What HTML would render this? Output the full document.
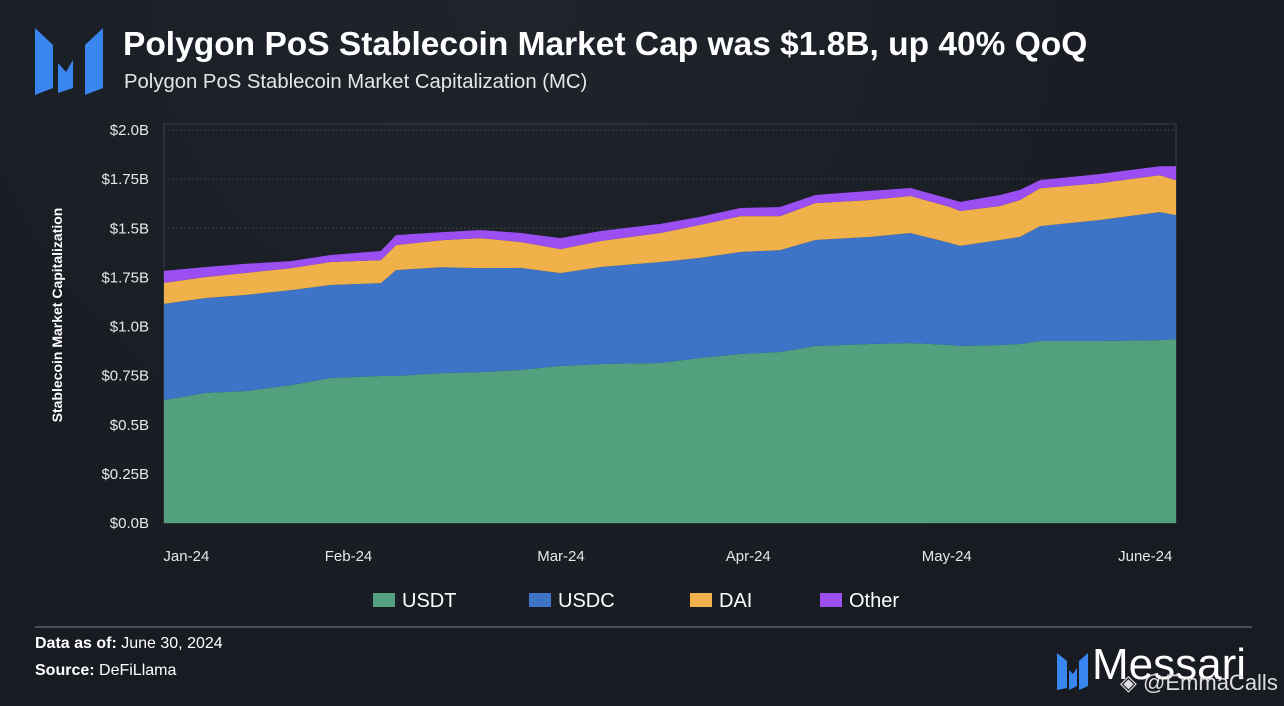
<!DOCTYPE html>
<html><head><meta charset="utf-8"><style>
body{margin:0;width:1284px;height:706px;overflow:hidden;background:#1b1f26;font-family:"Liberation Sans",sans-serif;color:#fff}
#bg{position:absolute;left:0;top:0;width:1284px;height:706px;background:radial-gradient(ellipse at 40% 0%,#1f242b 0%,#181c22 70%)}
.t{position:absolute;white-space:nowrap}
</style></head><body>
<div id="bg"></div>
<svg style="position:absolute;left:0;top:0" width="1284" height="706">
  <g fill="#3a86f0">
    <polygon points="35,28 53,45 53,88 35,95"/><polygon points="58,63 66,72 73,60 73,88 58,93"/><polygon points="85,45 103,28 103,88 85,95"/>
  </g>
  <g fill="#3a86f0">
    <polygon points="1057,653 1067,661 1067,688 1057,690"/><polygon points="1069,670 1073,674 1077,668 1077,686 1069,690"/><polygon points="1079,661 1088,653 1088,686 1079,690"/>
  </g>
  <line x1="35" y1="627" x2="1252" y2="627" stroke="#5a5f66" stroke-width="1.5"/>
  <g id="chart"></g>
</svg>
<div class="t" style="left:123px;top:26px;font-size:33.5px;font-weight:bold">Polygon PoS Stablecoin Market Cap was $1.8B, up 40% QoQ</div>
<div class="t" style="left:124px;top:71px;font-size:20.3px;color:#e6e6e6">Polygon PoS Stablecoin Market Capitalization (MC)</div>
<div class="t" style="left:57px;top:315px;font-size:14px;font-weight:bold;transform:translate(-50%,-50%) rotate(-90deg)">Stablecoin Market Capitalization</div>
<div class="t" style="left:35px;top:635px;font-size:16px"><b>Data as of:</b> June 30, 2024</div>
<div class="t" style="left:35px;top:662px;font-size:16px"><b>Source:</b> DeFiLlama</div>
<div class="t" style="left:1092px;top:640px;font-size:44px">Messari</div>
<div class="t" style="left:1120px;top:670px;font-size:22px;color:#ddd">◈ @EmmaCalls</div>
<script>
const days=[0,7.5,14.7,22.7,29.8,38.8,41.5,49.5,56.6,63.8,70.9,78.1,88.8,95.9,103.1,110.2,116.5,126.3,133.5,140.6,142.4,149.5,153.1,156.7,167.4,178.1,181];
const usdt=[.626,.662,.672,.702,.738,.748,.748,.763,.768,.779,.799,.809,.814,.840,.860,.870,.901,.911,.916,.906,.901,.906,.911,.926,.926,.931,.936];
const usdc=[.489,.483,.489,.483,.473,.473,.539,.539,.529,.519,.473,.494,.514,.509,.519,.519,.539,.545,.560,.519,.509,.534,.545,.585,.616,.651,.631];
const dai=[.107,.107,.112,.112,.117,.117,.127,.137,.153,.132,.122,.132,.148,.168,.183,.173,.188,.188,.188,.183,.178,.173,.188,.193,.188,.188,.178];
const other=[.061,.051,.046,.036,.036,.046,.051,.041,.041,.046,.056,.051,.046,.041,.041,.046,.041,.046,.041,.041,.046,.056,.051,.041,.046,.046,.071];
const yTicks=[0,0.25,0.5,0.75,1.0,1.25,1.5,1.75,2.0];
const yLabels=["$0.0B","$0.25B","$0.5B","$0.75B","$1.0B","$1.75B","$1.5B","$1.75B","$2.0B"];
const xTickDays=[4,33,71,104.5,140,175.5];
const xLabels=["Jan-24","Feb-24","Mar-24","Apr-24","May-24","June-24"];
const seriesNames=["USDT","USDC","DAI","Other"];
const colors=["#52a07e","#3d74c8","#f0b04a","#9b4ff2"];
const NS="http://www.w3.org/2000/svg";
const X0=164,X1=1176,Y0=523,Y1=130;
const xs=d=>X0+d/181*(X1-X0);
const ys=v=>Y0-v/2*(Y0-Y1);
const g=document.getElementById('chart');
function mk(t,a){const e=document.createElementNS(NS,t);for(const k in a)e.setAttribute(k,a[k]);g.appendChild(e);return e;}
const r=mk('rect',{x:X0,y:124,width:X1-X0,height:Y0-124,fill:'none',stroke:'#3a3f46'});


yTicks.forEach((v,i)=>{
  const l=mk('line',{x1:X0,x2:X1,y1:ys(v),y2:ys(v),stroke:'#3a3f46','stroke-dasharray':'2,2'});
  
  
  const t=mk('text',{x:149,y:ys(v)+5,'text-anchor':'end','font-size':15,fill:'#e8e8e8'});
  t.textContent=yLabels[i];
  
  
});
const all=[usdt,usdc,dai,other];
let base=days.map(()=>0);
all.forEach((s,k)=>{
  const top=s.map((v,i)=>base[i]+v);
  let d='M'+days.map((dd,i)=>xs(dd).toFixed(1)+','+ys(top[i]).toFixed(1)).join('L');
  for(let i=days.length-1;i>=0;i--)d+='L'+xs(days[i]).toFixed(1)+','+ys(base[i]).toFixed(1);
  const p=mk('path',{d:d+'Z',fill:colors[k]});
  
  
  base=top;
});
xTickDays.forEach((dd,i)=>{
  const t=mk('text',{x:xs(dd),y:561,'text-anchor':'middle','font-size':15,fill:'#e8e8e8'});
  t.textContent=xLabels[i];
  
  
});
const lx=[373,529,690,820];
seriesNames.forEach((n,i)=>{
  const s=mk('rect',{x:lx[i],y:593,width:22,height:14,fill:colors[i]});
  
  
  const t=mk('text',{x:lx[i]+29,y:607,'font-size':20,fill:'#fff'});
  t.textContent=n;
  
  
});
</script>
</body></html>
